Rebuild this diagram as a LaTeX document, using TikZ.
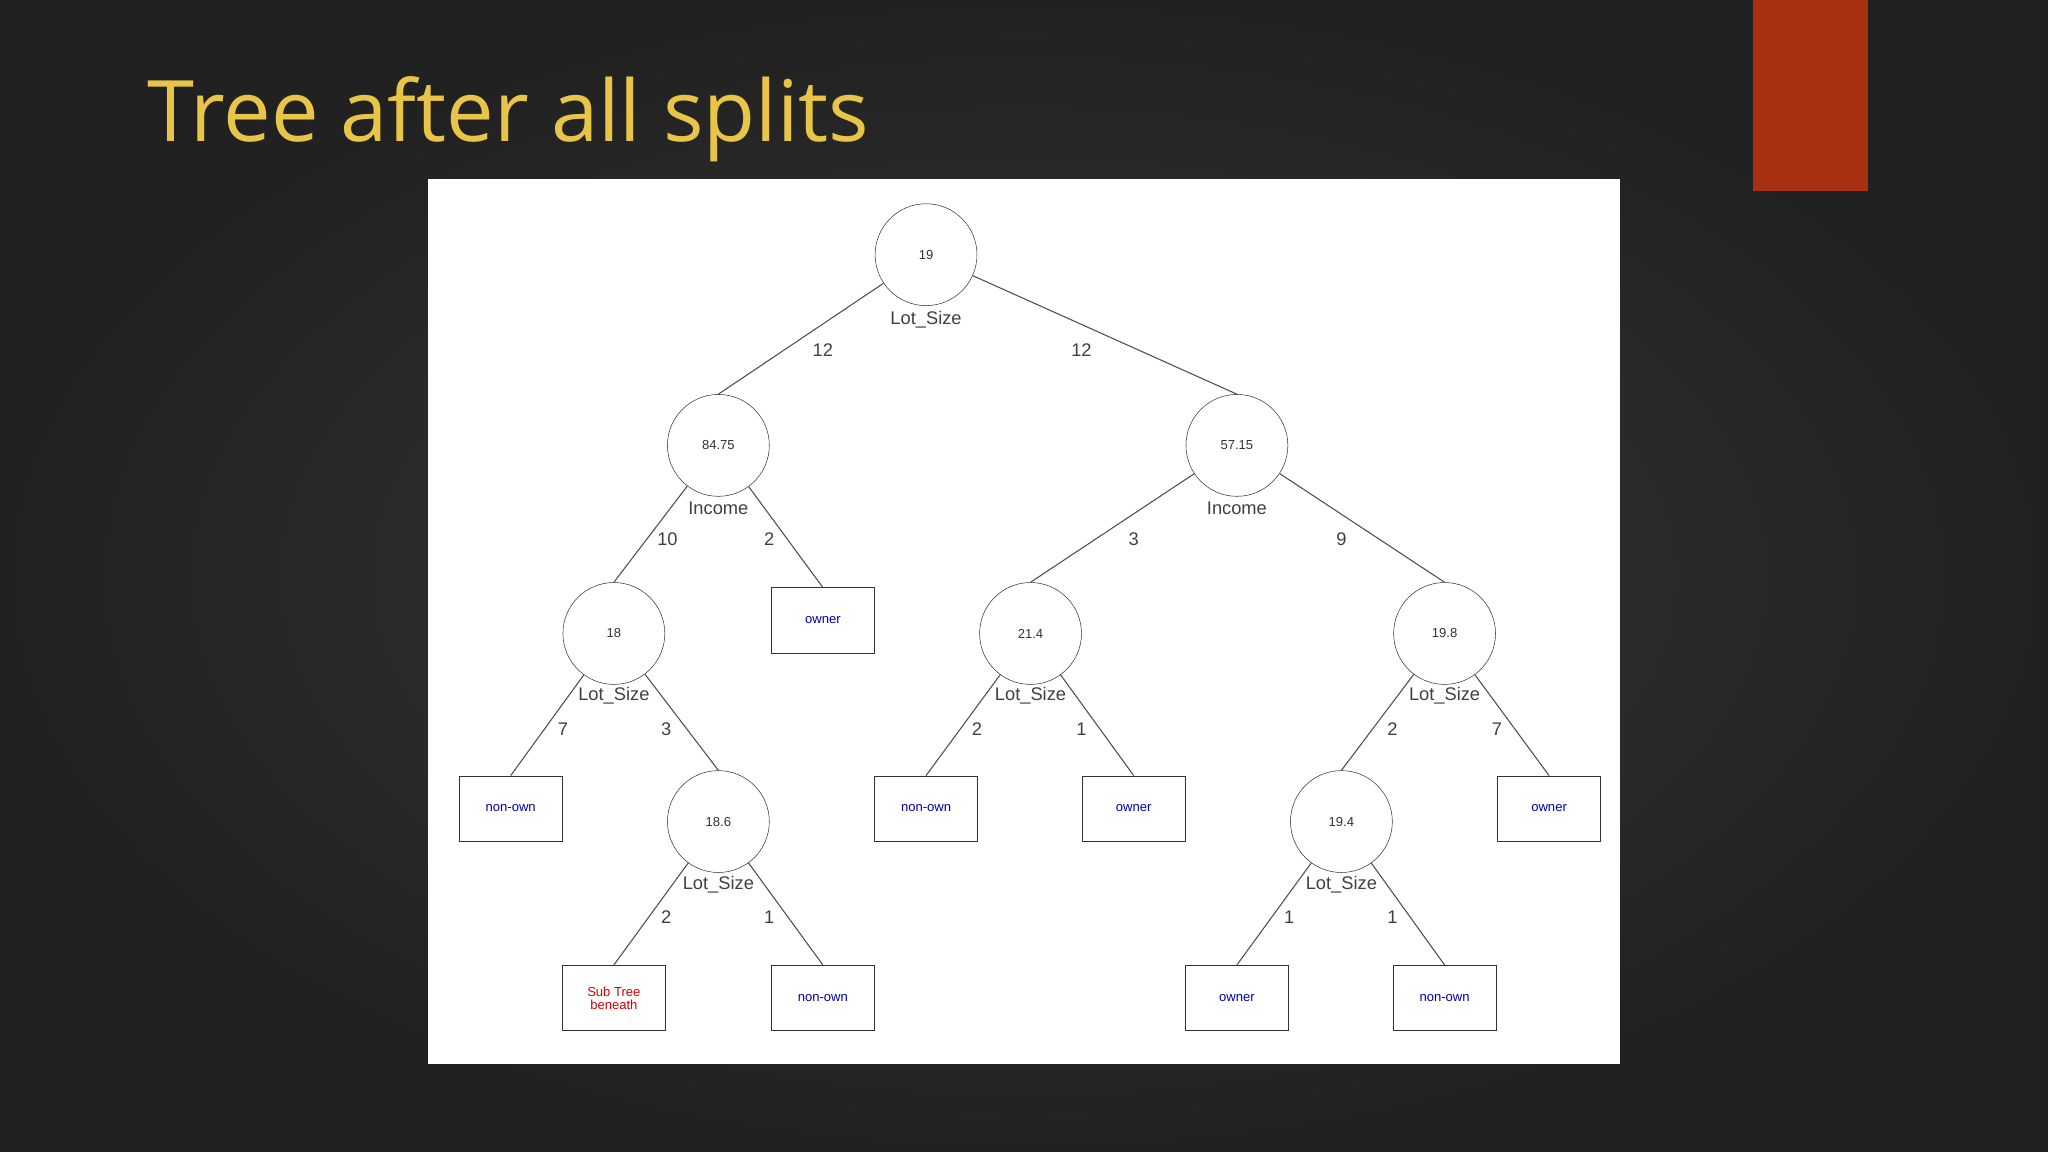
\documentclass[tikz,border=0pt]{standalone}
\usepackage{fontspec}
\setmainfont{Liberation Sans}
\newfontfamily\titlefont{Open Sans}
\begin{document}
\begin{tikzpicture}[x=1pt,y=-1pt,
  circ/.style={draw=black!80,circle,minimum size=78pt,inner sep=0pt,font=\fontsize{10}{12}\selectfont,text=black!80},
  leaf/.style={draw=black!80,minimum width=79pt,minimum height=50pt,inner sep=0pt,font=\fontsize{10}{12}\selectfont,text=blue!70!black,align=center},
  lab/.style={font=\fontsize{14}{16}\selectfont,text=black!75},
  edge/.style={draw=black!70,line width=0.8pt}]
\useasboundingbox (0,0) rectangle (1568,882);
\fill[inner color=black!78,outer color=black!87] (0,0) rectangle (1568,882);
\fill[fill={rgb,255:red,166;green,48;blue,16}] (1342,0) rectangle (1430,146);
\node[anchor=base west,font=\titlefont\fontsize{65}{72}\selectfont,text={rgb,255:red,232;green,196;blue,72},inner sep=0pt] (title) at (113,108) {Tree after all splits};
\fill[white] (328,137) rectangle (1240,815);
% nodes
\node[circ] (r) at (709,195) {19};
\node[circ] (a) at (550,341) {84.75};
\node[circ] (b) at (947,341) {57.15};
\node[circ] (c) at (470,485) {18};
\node[leaf] (ow1) at (630,475) {owner};
\node[circ] (d) at (789,485) {21.4};
\node[circ] (e) at (1106,485) {19.8};
\node[leaf] (no1) at (391,619) {non-own};
\node[circ] (f) at (550,629) {18.6};
\node[leaf] (no2) at (709,619) {non-own};
\node[leaf] (ow2) at (868,619) {owner};
\node[circ] (g) at (1027,629) {19.4};
\node[leaf] (ow3) at (1186,619) {owner};
\node[leaf,text=red!85!black] (st) at (470,764) {Sub Tree\\[-2pt]beneath};
\node[leaf] (no3) at (630,764) {non-own};
\node[leaf] (ow4) at (947,764) {owner};
\node[leaf] (no4) at (1106,764) {non-own};
% split labels
\node[lab] (lr) at (709,245) {Lot\_Size};
\node[lab] (la) at (550,389) {Income};
\node[lab] (lb) at (947,389) {Income};
\node[lab] (lc) at (470,533) {Lot\_Size};
\node[lab] (ld) at (789,533) {Lot\_Size};
\node[lab] (le) at (1106,533) {Lot\_Size};
\node[lab] (lf) at (550,677) {Lot\_Size};
\node[lab] (lg) at (1027,677) {Lot\_Size};
% edges
\foreach \p/\q in {r/a,r/b,a/c,b/d,b/e,c/f,e/g}{\draw[edge] (\p) -- (\q.north);}
\foreach \p/\q in {a/ow1,c/no1,d/no2,d/ow2,e/ow3,f/st,f/no3,g/ow4,g/no4}{\draw[edge] (\p) -- (\q.north);}
% edge labels
\foreach \x/\y/\t in {630/268/12,828/268/12,511/413/10,589/413/2,868/413/3,1027/413/9,431/558/7,510/558/3,748/558/2,828/558/1,1066/558/2,1146/558/7,510/702/2,589/702/1,987/702/1,1066/702/1}
  {\node[lab] at (\x,\y) {\t};}
\end{tikzpicture}
\end{document}
